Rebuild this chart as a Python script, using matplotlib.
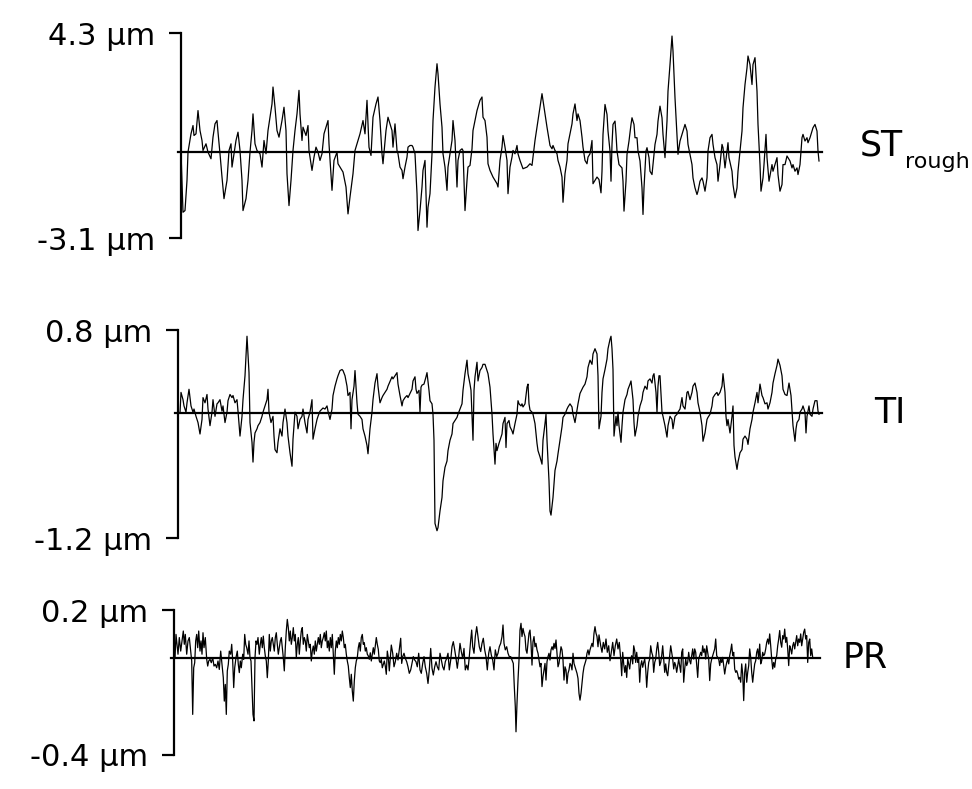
import matplotlib
matplotlib.use("Agg")
import matplotlib.pyplot as plt

plt.rcParams['font.family'] = ['DejaVu Sans']

# ---------------- data: (position along profile, height in µm) ----------------
ST_ROUGH = [
    (1,0),(3,-2.17),(5,-2.11),(7,-1.02),(8,0),(11,0.66),(13,0.96),(14,0.60),(16,0.66),(18,1.50),(20,0.78),
    (22,0.42),(23,0.06),(26,0.30),(28,0),(31,-0.24),(33,0.54),(35,1.02),(37,1.14),(38,0.72),(40,-0.06),
    (42,-0.90),(44,-1.68),(47,-1.02),(49,0.06),(51,0.30),(52,-0.54),(54,-0.06),(56,0.42),(58,0.72),(60,0.06),
    (62,-1.02),(63,-2.11),(66,-1.68),(68,-1.02),(70,0),(72,0.78),(73,1.38),(75,0.30),(77,0.06),(80,-0.06),
    (82,-0.54),(84,0.42),(86,-0.06),(88,0.78),(90,1.26),(92,1.74),(93,2.35),(95,1.62),(97,0.78),(99,0.54),
    (102,1.14),(104,1.62),(106,0.78),(107,-0.78),(109,-1.93),(111,-1.02),(113,0.06),(115,0.78),(117,1.38),
    (119,2.23),(120,1.38),(122,0.42),(123,0.90),(126,0.60),(128,0.96),(129,0.06),(132,-0.66),(134,-0.18),
    (136,0.18),(138,0),(140,-0.30),(142,-0.06),(144,0.66),(146,0.90),(148,1.14),(149,0.30),(151,-0.78),
    (152,-1.38),(154,-0.30),(157,0),(158,-0.42),(161,-0.60),(163,-0.72),(166,-1.26),(168,-2.23),(170,-1.62),
    (173,-0.78),(175,0.06),(177,0.30),(180,0.66),(183,1.14),(185,0.66),(187,1.87),(189,0.18),(191,-0.12),
    (193,1.26),(196,1.74),(198,1.99),(200,1.14),(202,-0.06),(203,-0.42),(206,0.78),(208,1.26),
    (212,0.78),(213,0.18),(215,1.02),(217,0.06),(218,-0.06),(220,-0.54),(222,-0.66),(223,-0.96),(225,-0.54),
    (227,-0.18),(228,0.18),(230,0.24),(232,0.24),(233,0.18),(235,-0.06),(237,-1.50),(238,-2.83),(240,-2.11),
    (242,-1.26),(243,-0.66),(245,-0.30),(247,-2.71),(248,-1.99),(250,-1.50),(252,-0.06),(253,1.14),(255,2.35),
    (257,3.19),(258,2.83),(260,1.74),(262,0.90),(263,-0.06),(265,-0.54),(267,-1.38),(268,-0.54),(270,-0.06),
    (272,0.42),(273,1.14),(275,0.42),(277,-1.26),(278,-0.30),(280,0.06),(282,0.12),(283,0.06),(285,-2.11),
    (287,-1.02),(288,-0.54),(290,-0.48),(292,0.12),(293,0.78),(295,1.14),(297,1.50),(300,1.87),(302,1.99),
    (303,1.26),(305,1.14),(307,0.54),(308,-0.42),(310,-0.66),(313,-0.90),(317,-1.14),(318,-1.26),(320,-0.30),
    (322,0.18),(323,0.60),(325,0.18),(327,-0.30),(328,-1.50),(330,-0.54),(332,-0.18),(333,0.06),(335,-0.06),
    (337,0.24),(338,-0.06),(340,-0.30),(343,-0.60),(347,-0.54),(350,-0.42),(352,-0.48),(353,-0.18),(355,0.42),
    (357,0.90),(360,1.62),(362,2.11),(364,1.62),(367,0.90),(370,0.24),(372,0.12),(373,0.24),(375,0.06),
    (377,-0.06),(378,-0.30),(380,-0.54),(382,-0.90),(383,-1.81),(385,-0.78),(387,-0.30),(388,0.30),(390,0.66),
    (392,1.02),(393,1.38),(395,1.74),(397,1.14),(398,1.38),(400,1.14),(402,0.54),(403,0.18),(405,-0.30),
    (407,-0.42),(408,-0.18),(410,-0.06),(412,0.42),(413,-1.14),(415,-1.02),(417,-0.90),
    (419,-0.99),(421,-1.47),(422,-0.69),(423,0.64),(425,1.72),(427,1.36),(428,0.76),(430,0.04),(431,-1.05),
    (432,0.28),(433,1.00),(435,1.12),(436,0.64),(437,0.04),(439,-0.45),(442,-0.57),(443,-1.05),(444,-2.13),
    (446,-1.05),(447,-0.08),(449,0.40),(451,1.00),(452,1.24),(454,1.00),(455,0.52),(457,0.52),(458,0.04),
    (460,-0.32),(462,-1.29),(463,-2.25),(464,-1.29),(466,0.04),(467,0.16),(469,-0.20),(470,-0.69),(472,-0.81),
    (473,-0.45),(475,0.28),(477,0.64),(478,1.12),(480,1.66),(482,1.24),(483,0.64),(485,-0.20),(487,1.12),
    (488,2.20),(490,3.16),(492,4.19),(493,3.65),(494,2.80),(495,1.96),(497,0.64),(498,-0.08),(500,0.40),
    (502,0.64),(503,0.76),(505,1.00),(507,0.76),(508,0.28),(510,-0.08),(512,-0.45),(513,-0.93),(515,-1.29),
    (517,-1.53),(518,-1.41),(520,-1.05),(522,-0.93),(523,-1.05),(525,-1.41),(527,-0.93),(528,0.04),(530,0.52),
    (532,0.64),(533,0.28),(535,-0.20),(537,-0.45),(538,-1.05),(540,-0.45),(542,0.28),(543,0.16),(545,-0.57),
    (547,0.04),(548,0.34),(549,-0.20),(552,-0.69),(553,-1.17),(555,-1.65),(557,-1.29),(558,-0.69),(560,0.04),
    (562,0.76),(563,1.60),(565,2.44),(567,3.04),(568,3.47),(570,3.16),(572,2.44),(573,3.16),(575,3.41),
    (577,2.20),(578,1.00),(580,-0.45),(581,-1.41),(583,-0.93),(584,-0.45),(586,0.64),(587,-0.20),(589,-1.05),
    (592,-0.45),(593,-0.69),(595,-0.45),(597,-0.20),(598,-0.81),(600,-1.41),(602,-1.17),(603,-0.45),
    (605,-0.45),(607,-0.14),(608,-0.20),(610,-0.32),(612,-0.57),(613,-0.45),(615,-0.69),(617,-0.57),
    (618,-0.81),(620,-0.45),(622,0.52),(623,0.64),(625,0.40),(627,0.52),(628,0.34),(630,0.52),(632,0.76),
    (633,0.88),(635,1.00),(637,0.76),(638,0.04),(639,-0.32),
]

TI = [
    (0,0),(1,0.20),(3,0.13),(4,0.07),(6,0.01),(7,0.10),(9,0.23),(11,0.07),(13,0.01),(14,0.04),(16,-0.03),
    (18,-0.09),(20,-0.20),(22,-0.06),(23,0.15),(25,0.10),(27,0.18),(28,0.04),(30,-0.12),(32,0.01),(33,0.13),
    (35,-0.03),(37,0.09),(38,0.10),(40,0.13),(42,0.02),(43,0.07),(45,-0.09),(47,0.01),(48,0.12),(50,0.18),
    (52,0.15),(53,0.17),(55,0.10),(57,0.13),(58,0.02),(60,-0.22),(62,-0.03),(63,0.13),(65,0.36),(66,0.55),
    (67,0.74),(69,0.39),(70,-0.09),(72,-0.28),(73,-0.47),(74,-0.28),(75,-0.19),(77,-0.15),(78,-0.12),
    (80,-0.09),(82,-0.03),(83,0.01),(85,0.07),(87,0.13),(88,0.23),(89,0.01),(91,-0.09),(93,-0.03),(94,-0.22),
    (95,-0.35),(97,-0.38),(98,-0.28),(100,-0.15),(102,-0.22),(103,-0.09),(105,0.04),(107,-0.09),(108,-0.22),
    (110,-0.38),(112,-0.51),(113,-0.25),(115,0.01),(117,-0.03),(118,-0.15),(120,-0.06),(122,-0.03),(123,0.04),
    (125,-0.09),(127,-0.19),(128,-0.06),(130,0.01),(132,0.13),(133,-0.25),(135,-0.15),(137,-0.06),(138,-0.03),
    (140,0.02),(142,0.04),(143,0.05),(145,0.04),(147,0.07),(148,0.02),(150,-0.06),(152,0.04),(153,0.17),
    (155,0.26),(157,0.33),(158,0.36),(160,0.41),(162,0.42),(163,0.41),(165,0.36),(167,0.26),(168,0.17),
    (170,0.20),(171,-0.15),(172,0.13),(174,0.26),(175,0.41),(177,0.10),(178,-0.01),(180,-0.03),(182,-0.06),
    (183,-0.15),(185,-0.22),(187,-0.31),(188,-0.39),(190,-0.15),(192,0.01),(193,0.13),(195,0.29),(197,0.38),
    (198,0.26),(200,0.10),(202,0.15),(203,0.17),(205,0.20),(207,0.23),(208,0.26),
    (212,0.35),(213,0.33),(215,0.36),(217,0.39),(218,0.28),(220,0.17),(222,0.07),(223,0.12),(225,0.15),
    (227,0.17),(228,0.15),(230,0.19),(232,0.23),(233,0.31),(235,0.35),(236,0.23),(237,0.19),(239,0.22),
    (240,0.01),(241,0.25),(242,0.27),(244,0.28),(246,0.35),(247,0.39),(249,0.22),(250,0.12),(252,0.09),
    (253,-0.01),(254,-0.26),(255,-1.06),(257,-1.13),(258,-1.10),(260,-0.94),(262,-0.81),(263,-0.65),
    (265,-0.52),(267,-0.46),(268,-0.36),(270,-0.26),(272,-0.20),(273,-0.10),(275,-0.07),(277,-0.04),
    (278,-0.01),(280,0.04),(282,0.09),(283,0.22),(285,0.38),(287,0.51),(288,0.38),(290,0.28),(291,0.22),
    (293,-0.26),(294,0.22),(295,0.35),(297,0.49),(298,0.31),(300,0.41),(302,0.44),(303,0.47),(305,0.47),
    (307,0.41),(308,0.38),(310,0.25),(312,-0.01),(313,-0.20),(315,-0.49),(316,-0.29),(317,-0.36),(319,-0.29),
    (320,-0.26),(322,-0.20),(323,-0.10),(325,-0.04),(326,-0.33),(327,-0.10),(329,-0.07),(330,-0.13),
    (332,-0.17),(333,-0.20),(335,-0.10),(337,-0.01),(338,0.12),(339,0.09),(341,0.07),(342,0.09),(343,0.06),
    (345,0.09),(347,0.25),(348,0.28),(349,0.09),(350,0.03),(352,0.01),(353,-0.01),(355,-0.10),(357,-0.29),
    (358,-0.36),(360,-0.42),(362,-0.49),(363,-0.26),(365,-0.10),(366,-0.01),(367,-0.26),(369,-0.65),
    (370,-0.94),(371,-0.98),(373,-0.81),(374,-0.68),(375,-0.55),(377,-0.46),(378,-0.39),(380,-0.26),
    (382,-0.13),(383,-0.04),(385,-0.01),(387,0.04),(388,0.06),(390,0.09),(392,0.06),(393,-0.01),(395,-0.09),
    (397,0.03),(398,0.09),(400,0.19),(402,0.23),(403,0.25),(405,0.28),(407,0.35),(408,0.44),(410,0.51),
    (412,0.47),(413,0.57),(415,0.62),
    (417,0.57),(418,0.36),(419,-0.15),(421,-0.03),(422,0.20),(423,0.33),(425,0.42),(427,0.52),(428,0.62),
    (430,0.71),(431,0.74),(432,0.62),(433,0.42),(434,-0.22),(436,-0.03),(437,-0.12),(438,0.01),(439,-0.12),
    (441,-0.28),(442,-0.12),(443,0.01),(445,0.13),(447,0.18),(448,0.23),(450,0.28),(451,0.31),(453,0.13),
    (454,-0.09),(455,-0.22),(457,-0.12),(458,-0.03),(460,0.07),(462,0.13),(463,0.20),(465,0.26),(467,0.23),
    (468,0.31),(470,0.33),(472,0.29),(473,0.36),(474,0.38),(476,0.20),(477,0.01),(478,0.26),(479,0.36),
    (480,0.36),(482,0.01),(483,-0.03),(485,-0.12),(487,-0.23),(488,-0.12),(490,-0.03),(492,-0.06),(493,-0.15),
    (495,-0.03),(497,-0.01),(498,0.01),(500,0.04),(502,0.15),(503,0.07),(505,0.04),(507,0.20),(508,0.21),
    (510,0.13),(512,0.20),(513,0.26),(515,0.29),(517,0.20),(518,0.10),(520,0.01),(522,-0.12),(523,-0.27),
    (525,-0.19),(527,-0.06),(528,-0.04),(530,-0.01),(532,0.07),(533,0.15),(535,0.18),(537,0.20),(538,0.17),
    (540,0.20),(542,0.26),(543,0.38),(545,0.20),(546,-0.03),(547,-0.12),(548,-0.06),(550,-0.19),(552,-0.03),
    (553,0.07),(554,-0.31),(555,-0.42),(557,-0.54),(558,-0.47),(560,-0.38),(562,-0.35),(563,-0.25),
    (565,-0.22),(567,-0.25),(568,-0.30),(570,-0.15),(572,-0.06),(573,0.01),(575,0.10),(577,0.20),(578,0.10),
    (580,0.28),(582,0.17),(583,0.15),(585,0.09),(587,0.10),(588,0.04),(590,0.10),(592,0.20),(593,0.29),
    (595,0.38),(597,0.46),(598,0.52),(600,0.46),(602,0.36),(603,0.23),(605,0.18),(607,0.17),(608,0.23),
    (609,0.29),(611,0.17),(612,0.02),(613,-0.12),(615,-0.27),(616,-0.15),(617,-0.09),(619,-0.06),(620,0.01),
    (622,0.04),(623,0.07),(625,0.01),(626,-0.19),(627,-0.03),(629,0.07),(630,-0.01),(632,-0.03),(633,0.04),
    (635,0.12),(637,0.12),(638,0.02),(639,-0.01),
]

PR = [
    (0.0,0),(1.0,0.099),(2.0,0.058),(3.0,0.017),(4.3,0.086),(5.7,0.030),(7.0,0.072),(8.3,0.113),(9.3,0.058),
    (10.3,0.099),(11.7,0.017),(13.0,0.072),(14.3,0.086),(15.7,0.030),(16.7,-0.011),(17.7,-0.232),(18.7,-0.039),
    (19.7,-0.018),(20.7,0.072),(21.7,0.099),(22.7,0.044),(23.7,0.113),(25.0,0.030),(26.0,0.072),(27.0,0.017),
    (28.0,0.106),(29.0,0.044),(30.3,0.086),(31.7,-0.004),(32.7,-0.032),(33.7,-0.011),(35.0,-0.004),
    (36.3,-0.018),(37.7,0.003),(39.0,-0.032),(40.3,-0.025),(41.7,-0.039),(43.0,-0.011),(44.3,-0.046),
    (45.7,0.030),(47.0,-0.025),(48.3,-0.080),(49.3,-0.177),(50.3,-0.108),(51.3,-0.232),(52.3,-0.052),
    (53.3,-0.025),(54.3,0.030),(55.7,0.017),(56.7,0.058),(57.7,-0.011),(58.7,-0.121),(59.7,-0.039),(61.0,0.003),
    (62.3,0.030),(63.3,-0.025),(64.3,-0.059),(65.3,-0.011),(66.3,-0.039),(67.7,0.017),(68.7,-0.004),
    (69.7,0.099),(70.7,0.058),(71.7,0.044),(73.0,0.017),(74.0,0.072),(75.0,0.003),(76.0,-0.011),(77.0,-0.121),
    (78.0,-0.232),(79.0,-0.259),(80.0,0.003),(81.0,0.072),(82.0,0.058),(83.0,0.086),(84.3,0.017),(85.3,0.058),
    (86.3,0.086),(87.3,0.044),(88.3,0.092),(89.3,0.044),(90.3,0.010),(91.3,-0.011),(92.3,-0.080),(93.3,-0.011),
    (94.3,0.099),(95.3,0.030),(96.3,0.072),(97.3,0.086),(98.3,0.058),(99.3,0.030),(100.3,0.086),(101.3,0.106),
    (102.3,0.058),(103.3,0.017),(104.3,0.044),(105.3,0.072),(106.3,0.086),(107.3,0.044),(108.3,0.003),
    (109.3,-0.052),(110.3,0.044),(111.3,0.113),(112.3,0.161),(113.3,0.127),(114.3,0.072),(115.3,0.113),
    (116.3,0.058),(117.3,0.086),(118.3,0.127),(119.3,0.072),(120.3,0.099),(121.3,0.003),(122.3,0.058),
    (123.3,0.086),(124.3,0.017),(125.3,0.072),(126.3,0.113),(127.3,0.127),(128.3,0.058),(129.3,0.086),
    (130.3,0.072),(131.3,0.030),(132.3,0.099),(133.3,0.072),(134.3,0.044),(135.3,0.058),(136.3,-0.011),
    (137.3,0.030),(138.3,0.051),(139.3,0.017),(140.3,0.072),(141.3,0.030),(142.3,0.058),(143.3,0.086),
    (144.3,0.058),(145.3,0.099),(146.3,0.044),(147.3,0.072),(148.3,0.086),(149.3,0.106),(150.3,0.072),
    (151.3,0.113),(152.3,0.044),(153.3,0.072),(154.3,0.030),(155.3,0.086),(156.3,0.044),(157.3,0.099),
    (158.3,0.017),(159.3,-0.066),(160.3,0.030),(161.3,0.072),(162.3,0.044),(163.3,0.086),(164.3,0.058),
    (165.3,0.099),(166.3,0.072),(167.3,0.113),(168.3,0.086),(169.3,0.044),(170.3,0.058),(171.3,0.017),
    (172.3,-0.011),(173.3,-0.032),(174.3,-0.080),(175.3,-0.121),(176.3,-0.066),(177.3,-0.135),(178.3,-0.177),
    (179.3,-0.094),(180.3,-0.039),(181.3,-0.011),(182.3,0.003),(183.3,0.044),(184.3,0.065),(185.3,0.030),
    (186.3,0.086),(187.3,0.099),(188.3,0.058),(189.3,0.065),(190.3,0.030),(191.3,0.044),(192.3,0.017),
    (193.3,0.010),(194.3,-0.004),(195.3,0.023),(196.3,-0.011),(197.3,0.017),(198.3,0.044),(199.3,0.017),
    (200.3,0.051),(201.3,0.086),(202.3,0.058),(203.3,0.037),(204.3,-0.011),(205.3,-0.018),(206.3,-0.004),
    (207.3,-0.039),(208.3,-0.025),(209.3,-0.011),(210.3,-0.032),(211.3,-0.066),(212.3,0.030),(213.3,0.003),
    (214.3,-0.052),
    (216.3,0.055),(217.7,0.021),(219.0,-0.035),(220.3,-0.014),(221.7,0.021),(223.0,-0.007),(224.3,0.035),
    (225.7,0.083),(226.7,-0.021),(227.7,0.007),(229.0,0.021),(230.3,0),(231.7,-0.014),(233.0,-0.035),
    (234.3,-0.062),(235.7,-0.048),(237.0,-0.021),(238.3,0.007),(239.7,-0.007),(241.0,-0.014),(242.3,-0.035),
    (243.7,0.021),(245.0,-0.048),(246.3,-0.062),(247.7,-0.021),(249.0,0.007),(250.3,-0.035),(251.7,-0.062),
    (253.0,-0.104),(254.3,-0.048),(255.7,0.041),(257.0,-0.041),(258.3,-0.069),(259.7,-0.035),(261.0,-0.014),
    (262.3,-0.035),(263.7,-0.048),(265.0,0.021),(266.3,-0.007),(267.7,-0.035),(269.0,-0.048),(270.3,-0.014),
    (271.7,0),(273.0,0.021),(274.3,-0.048),(275.7,-0.007),(277.0,0.048),(278.3,0.069),(279.7,0.035),(281.0,0),
    (282.3,-0.041),(283.7,0.007),(285.0,0.062),(286.3,0.028),(287.7,0),(289.0,0.041),(290.3,-0.048),
    (291.7,-0.028),(293.0,-0.048),(294.3,0.007),(295.7,0.076),(296.7,0.117),(297.7,0.048),(299.0,0.021),
    (300.3,0.090),(301.7,0.131),(303.0,0.090),(304.3,0.048),(305.7,0.028),(307.0,0.062),(308.3,0.083),
    (309.7,0.035),(311.0,0.007),(312.3,-0.048),(313.7,0.021),(315.0,0.048),(316.3,0.014),(317.7,-0.007),
    (319.0,-0.048),(320.3,0.035),(321.7,0.007),(323.0,0.021),(324.3,0.048),(325.7,0.062),(327.0,0.090),
    (328.0,0.138),(329.0,0.062),(330.3,0.035),(331.7,0.048),(333.0,0.021),(334.3,0.007),(335.7,0.007),
    (337.0,-0.007),(338.3,-0.021),(339.3,-0.117),(340.3,-0.200),(341.0,-0.304),(342.0,-0.186),(343.0,-0.090),
    (344.0,-0.007),(345.0,0.117),(346.0,0.145),(347.0,0.090),(348.0,0.124),(349.0,0.104),(350.0,0.090),
    (351.0,0.035),(352.0,0.021),(353.0,0.062),(354.0,0.104),(355.0,0.117),(356.0,0.062),(357.0,-0.028),
    (358.0,0.069),(359.0,0.090),(360.0,0.048),(361.0,0.062),(362.0,0.035),(363.0,0.021),(364.0,-0.007),
    (365.0,-0.035),(366.0,-0.021),(367.0,-0.117),(368.0,-0.076),(369.0,-0.048),(370.0,-0.021),(371.0,-0.090),
    (372.0,-0.014),(373.0,0.007),(374.0,0.021),(375.0,-0.007),(376.0,0.035),(377.0,0.048),(378.0,0.035),
    (379.0,0.062),(380.0,0.041),(381.0,0.076),(382.0,0.021),(383.0,-0.035),(384.0,-0.021),(385.0,0.014),
    (386.0,0.048),(387.0,0.035),(388.0,-0.007),(389.0,-0.090),(390.0,-0.035),(391.0,-0.048),(392.0,-0.104),
    (393.0,-0.062),(394.0,-0.048),(395.0,-0.021),(396.0,-0.028),(397.0,-0.048),(398.0,0.021),(399.0,-0.021),
    (400.0,-0.035),(401.0,-0.048),(402.0,-0.062),(403.0,-0.083),(404.0,-0.145),(405.0,-0.173),(406.0,-0.145),
    (407.0,-0.104),(408.0,-0.062),(409.0,-0.035),(410.0,-0.021),(411.0,-0.007),(412.0,0.021),(413.0,0.035),
    (414.0,0.014),(415.0,0.035),(416.0,0.048),(417.0,0.062),(418.0,0.048),(419.0,0.104),(420.0,0.131),
    (421.0,0.104),(422.0,0.090),(423.0,0.048),(424.0,0.097),
    (425.7,0.052),(427.0,0.025),(428.3,0.066),(429.7,0.039),(431.0,0.080),(432.3,0.025),(433.7,0.052),
    (435.0,-0.010),(436.3,0.025),(437.7,0.066),(439.0,0.011),(440.3,0.052),(441.7,0.080),(443.0,0.039),
    (444.3,0.066),(445.7,-0.003),(446.7,-0.072),(447.7,0.025),(448.7,-0.023),(449.7,-0.058),(450.7,-0.030),
    (451.7,-0.079),(452.7,-0.003),(453.7,-0.023),(454.7,-0.044),(455.7,-0.003),(456.7,0.011),(457.7,-0.023),
    (458.7,0.052),(459.7,0.032),(460.7,-0.017),(461.7,0.025),(462.7,-0.017),(463.7,-0.003),(464.7,-0.099),
    (465.7,-0.030),(466.7,-0.010),(467.7,-0.037),(468.7,-0.017),(469.7,-0.003),(470.7,-0.044),(471.7,-0.120),
    (472.7,-0.058),(473.7,-0.017),(474.7,-0.003),(475.7,0.052),(476.7,0.025),(477.7,0.011),(478.7,-0.058),
    (479.7,-0.017),(480.7,-0.003),(481.7,0.039),(482.7,0.066),(483.7,0.025),(484.7,-0.030),(485.7,-0.017),
    (486.7,0.011),(487.7,0.052),(488.7,-0.003),(489.7,-0.058),(490.7,-0.023),(491.7,-0.058),(492.7,-0.072),
    (493.7,-0.030),(494.7,0.011),(495.7,0.052),(496.7,0.025),(497.7,-0.003),(498.7,-0.044),(499.7,-0.017),
    (500.7,-0.030),(501.7,-0.058),(502.7,-0.030),(503.7,-0.003),(504.7,-0.030),(505.7,-0.058),(506.7,0.025),
    (507.7,0.039),(508.7,-0.099),(509.7,-0.044),(510.7,-0.003),(511.7,-0.030),(512.7,-0.017),(513.7,0.025),
    (514.7,-0.010),(515.7,-0.023),(516.7,0.011),(517.7,0.039),(518.7,-0.003),(519.7,0.039),(520.7,0.025),
    (521.7,-0.030),(522.7,-0.079),(523.7,-0.003),(524.7,0.011),(525.7,0.025),(526.7,0.011),(527.7,0.052),
    (528.7,0.025),(529.7,0.039),(530.7,-0.003),(531.7,0.052),(532.7,0.025),(533.7,-0.003),(534.7,-0.092),
    (535.7,-0.023),(536.7,-0.003),(537.7,0.011),(538.7,0.025),(539.7,0.039),(540.7,0.080),(541.7,0.011),
    (542.7,0.004),(543.7,-0.003),(544.7,-0.030),(545.7,-0.003),(546.7,-0.017),(547.7,0.004),(548.7,-0.030),
    (549.7,-0.065),(550.7,-0.037),(551.7,-0.017),(552.7,-0.003),(553.7,-0.023),(554.7,0.011),(555.7,0.032),
    (556.7,0.059),(557.7,0.011),(558.7,0.025),(559.7,-0.044),(560.7,-0.058),(561.7,-0.051),(562.7,-0.065),
    (563.7,-0.086),(564.7,-0.079),(565.7,-0.099),(566.7,-0.023),(567.7,-0.065),(568.7,-0.175),(569.7,-0.058),
    (570.7,-0.023),(571.7,-0.099),(572.7,-0.058),(573.7,-0.030),(574.7,0.039),(575.7,0.004),(576.7,-0.058),
    (577.7,-0.099),(578.7,-0.058),(579.7,-0.023),(580.7,-0.010),(581.7,0.025),(582.7,0.039),(583.7,-0.003),
    (584.7,0.059),(585.7,-0.023),(586.7,-0.010),(587.7,0.025),(588.7,0.011),(589.7,0.018),(590.7,0.039),
    (591.7,0.066),(592.7,0.080),(593.7,0.059),(594.7,0.101),(595.7,0.052),(596.7,-0.003),(597.7,-0.044),
    (598.7,-0.017),(599.7,-0.037),(600.7,-0.003),(601.7,0.011),(602.7,0.052),(603.7,0.080),(604.7,0.115),
    (605.7,0.066),(606.7,0.046),(607.7,0.094),(608.7,0.080),(609.7,0.121),(610.7,0.066),(611.7,0.087),
    (612.7,0.039),(613.7,-0.030),(614.7,0.052),(615.7,0.039),(616.7,0.018),(617.7,0.052),(618.7,0.066),
    (619.7,0.039),(620.7,0.066),(621.7,0.094),(622.7,0.052),(623.7,0.080),(624.7,0.066),(625.7,0.101),
    (626.7,0.052),(627.7,0.080),(628.7,0.108),(629.7,0.121),(630.7,0.080),(631.7,0.094),(632.7,-0.017),
    (633.7,0.066),(634.7,0.080),(635.7,0.011),(636.7,0.039),(637.7,0.004),
]

PROFILE_NAMES = ["ST", "TI", "PR"]
Y_LIMITS = [(-3.1, 4.3), (-1.2, 0.8), (-0.4, 0.2)]
TICK_LABELS = [("-3.1 µm", "4.3 µm"), ("-1.2 µm", "0.8 µm"), ("-0.4 µm", "0.2 µm")]

# ---------------- layout (pixels) ----------------
W, H = 972, 789
fig = plt.figure(figsize=(W / 100, H / 100), dpi=100)
fig.patch.set_facecolor("white")

# (top, bottom, left, right, x-offset of the profile origin)
frames = [
    (33, 238, 181, 822, 180),
    (330, 538, 178, 822, 180),
    (610, 755, 174, 820, 175),
]
profiles = [ST_ROUGH, TI, PR]

for (top, bot, left, right, off), prof, ylim, tl in zip(frames, profiles, Y_LIMITS, TICK_LABELS):
    ax = fig.add_axes([left / W, 1 - bot / H, (right - left) / W, (bot - top) / H])
    ax.set_xlim(left - off, right - off)
    ax.set_ylim(*ylim)
    xs = [p[0] for p in prof]
    ys = [p[1] for p in prof]
    ax.plot(xs, ys, color="black", lw=0.9, clip_on=False)
    ax.axhline(0, xmin=-0.005, xmax=1.0, color="black", lw=1.6, clip_on=False)
    for s in ("top", "right", "bottom"):
        ax.spines[s].set_visible(False)
    ax.spines["left"].set_linewidth(1.6)
    ax.set_xticks([])
    ax.set_yticks(list(ylim))
    ax.set_yticklabels(list(tl))
    ax.tick_params(axis="y", direction="out", length=8.5, width=1.6, pad=10, labelsize=22)
    ax.patch.set_alpha(0)

# right-hand labels
fig.text(860 / W, 1 - 156 / H, "ST", fontsize=25, va="baseline", ha="left")
fig.text(905 / W, 1 - 168 / H, "rough", fontsize=16, va="baseline", ha="left")
fig.text(874 / W, 1 - 423 / H, "TI", fontsize=25, va="baseline", ha="left")
fig.text(843 / W, 1 - 668 / H, "PR", fontsize=25, va="baseline", ha="left")

fig.savefig("out.png", dpi=100)
